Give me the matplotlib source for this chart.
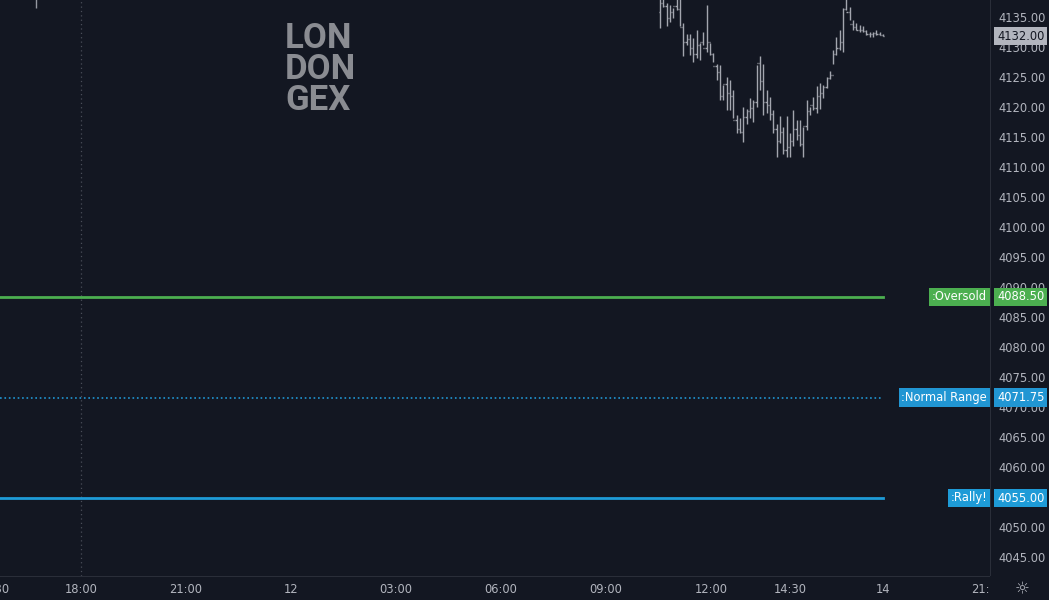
import matplotlib
matplotlib.use("Agg")
import matplotlib.pyplot as plt
import numpy as np

BG = "#131722"
TXT = "#b2b5be"
GRID = "#2a2e39"

# ---- data ----
highs = [4138.5,4138.5,4137.5,4137.2,4136.6,4138.5,4138.5,4134.1,4132.4,4132.4,4131.6,4133.0,4130.8,4132.7,4137.2,4130.8,4129.1,4127.4,4127.2,4123.8,4125.2,4124.7,4123.0,4118.8,4118.3,4120.2,4119.9,4121.6,4121.3,4127.2,4128.6,4127.4,4123.0,4121.9,4119.7,4117.4,4118.6,4116.9,4118.6,4115.8,4119.7,4118.0,4118.0,4116.9,4121.3,4120.2,4121.9,4123.6,4124.1,4123.8,4125.2,4126.1,4129.7,4131.9,4133.0,4136.6,4138.5,4136.9,4134.7,4134.1,4133.8,4133.6,4133.0,4132.7,4132.7,4133.0,4132.7,4132.4]
lows = [4133.3,4136.9,4133.6,4134.4,4135.0,4136.3,4133.6,4128.6,4130.5,4128.8,4127.7,4128.3,4128.0,4130.5,4129.4,4128.8,4127.7,4124.7,4121.3,4121.3,4119.7,4119.7,4118.3,4115.8,4115.8,4114.4,4117.4,4118.3,4117.7,4120.2,4123.0,4118.8,4119.1,4118.0,4115.8,4111.9,4114.1,4112.4,4111.9,4111.9,4113.6,4114.7,4113.6,4111.9,4116.3,4118.8,4119.7,4119.1,4119.9,4121.6,4123.3,4124.9,4127.4,4128.8,4129.7,4129.4,4136.3,4134.7,4133.0,4133.0,4132.7,4132.7,4132.2,4131.9,4131.9,4132.2,4132.2,4132.0]
opens = [4136.0,4137.5,4137.0,4135.0,4136.0,4137.0,4136.5,4133.5,4131.0,4131.5,4130.0,4129.0,4130.5,4131.0,4130.0,4131.0,4129.0,4127.0,4126.0,4122.0,4124.0,4122.5,4122.0,4118.0,4116.5,4116.0,4118.5,4119.5,4120.0,4121.0,4127.5,4124.5,4121.0,4120.5,4119.0,4116.5,4114.5,4116.0,4113.0,4113.5,4114.5,4116.5,4115.5,4114.0,4117.0,4119.5,4120.5,4120.0,4122.0,4122.5,4123.5,4125.0,4125.5,4129.0,4130.0,4131.0,4136.5,4136.0,4134.0,4133.5,4133.0,4133.0,4132.8,4132.3,4132.4,4132.5,4132.3,4132.2]
closes = [4137.5,4137.0,4135.0,4136.0,4137.0,4136.5,4133.5,4131.0,4131.5,4130.0,4129.0,4130.5,4131.0,4130.0,4131.0,4129.0,4127.0,4126.0,4122.0,4124.0,4122.5,4122.0,4118.0,4116.5,4116.0,4118.5,4119.5,4120.0,4121.0,4127.5,4124.5,4121.0,4120.5,4119.0,4116.5,4114.5,4116.0,4113.0,4113.5,4114.5,4116.5,4115.5,4114.0,4117.0,4119.5,4120.5,4120.0,4122.0,4122.5,4123.5,4125.0,4125.5,4129.0,4130.0,4131.0,4136.5,4136.0,4134.0,4133.5,4133.0,4133.0,4132.8,4132.3,4132.4,4132.5,4132.3,4132.2,4132.0]
bar_start = 16.54      # hours after 18:00 (compressed session axis)
bar_step = 0.0952

levels = [4088.50, 4071.75, 4055.00]
level_names = [":Oversold", ":Normal Range", ":Rally!"]
level_colors = ["#4caf50", "#2196d3", "#1e9bd7"]
level_styles = ["-", ":", "-"]
level_widths = [2.0, 1.2, 2.0]
level_end = 22.91

tick_pos = [-2.5, 0, 3, 6, 9, 12, 15, 18, 20.26, 22.91, 25.9]
tick_lbl = ["15:30", "18:00", "21:00", "12", "03:00", "06:00", "09:00", "12:00", "14:30", "14", "21:00"]
price_ticks = list(range(4045, 4140, 5))
last_price = 4132.00

W, H = 1049, 600
fig = plt.figure(figsize=(W/100, H/100), dpi=100, facecolor=BG)
axw = 990/W; axh = 576/H; by = 24/H
ax = fig.add_axes([0, by, axw, axh], facecolor=BG)
xlim = (-81/35, (990-81)/35)
ylim = (4042, 4138)
ax.set_xlim(*xlim); ax.set_ylim(*ylim)
ax.axis("off")

# session separator
ax.axvline(0, color="#4a4e59", lw=0.9, ls=(0, (1, 2.5)))
# early bar at top-left
ax.vlines(-2.31 + 36/35, 4136.7, 4139, color="#9598a1", lw=1)

# OHLC bars
x = bar_start + bar_step*np.arange(len(highs))
tk = bar_step*0.35
ax.vlines(x, lows, highs, color="#a3a6af", lw=1)
ax.hlines(opens, x-tk, x, color="#a3a6af", lw=1)
ax.hlines(closes, x, x+tk, color="#a3a6af", lw=1)

# levels
for lv, nm, c, s, w in zip(level_names and levels, level_names, level_colors, level_styles, level_widths):
    ax.plot([xlim[0], level_end], [lv, lv], color=c, ls=s, lw=w)
    ax.text(0.997, lv, nm, transform=ax.get_yaxis_transform(), ha="right", va="center",
            color="white", fontsize=8.3, fontfamily="DejaVu Sans",
            bbox=dict(boxstyle="square,pad=0.22", fc=c, ec="none"))

# watermark
ax.text(285/990, 1-22/576, "LON\nDON\nGEX", transform=ax.transAxes, ha="left", va="top",
        color="#8a8c92", fontsize=25, fontweight="bold", fontfamily="DejaVu Sans Condensed" if False else "Roboto",
        linespacing=0.92, fontstretch="condensed")

# price axis
pax = fig.add_axes([axw, by, 1-axw, axh], facecolor=BG)
pax.set_xlim(0, 1); pax.set_ylim(*ylim); pax.axis("off")
pax.axvline(0, color=GRID, lw=1.5)
for p in price_ticks:
    pax.text(0.14, p, f"{p:.2f}", color=TXT, fontsize=8.3, va="center", ha="left", clip_on=True)
for lv, c in zip(levels, level_colors):
    pax.text(0.12, lv, f"{lv:.2f}", color="white", fontsize=8.3, va="center", ha="left",
             bbox=dict(boxstyle="square,pad=0.25", fc=c, ec="none"))
pax.text(0.12, last_price, f"{last_price:.2f}", color="#131722", fontsize=8.3, va="center", ha="left",
         bbox=dict(boxstyle="square,pad=0.25", fc="#b2b5be", ec="none"))

# time axis
tax = fig.add_axes([0, 0, axw, by], facecolor=BG)
tax.set_xlim(*xlim); tax.set_ylim(0, 1); tax.axis("off")
tax.axhline(1, color=GRID, lw=1.5)
for p, l in zip(tick_pos, tick_lbl):
    tax.text(p, 0.45, l, color=TXT, fontsize=8.3, ha="center", va="center", clip_on=True)
gax = fig.add_axes([axw, 0, 1-axw, by], facecolor=BG)
gax.axis("off")
gax.text(0.55, 0.45, "☼", color=TXT, fontsize=12, ha="center", va="center")

fig.savefig("out.png", dpi=100, facecolor=BG)
